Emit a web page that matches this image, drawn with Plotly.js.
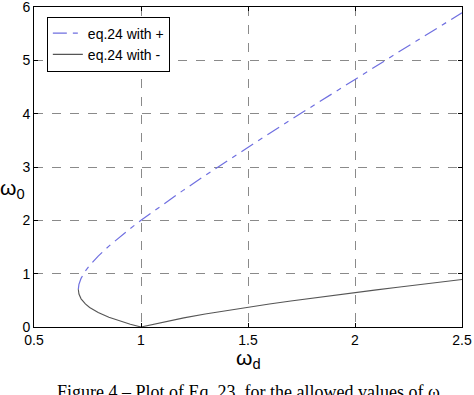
<!DOCTYPE html>
<html>
<head>
<meta charset="utf-8">
<script src="https://cdn.plot.ly/plotly-3.0.1.min.js"></script>
<style>html,body{margin:0;padding:0;background:#fff;}#chart{width:474px;height:395px;}</style>
</head>
<body>
<div id="chart"></div>
<script>
// values
const omegaD = [0.7071, 0.71, 0.72, 0.74, 0.76, 0.80, 0.85, 0.90, 0.95, 1.00, 1.10, 1.20, 1.30, 1.40, 1.50, 1.60, 1.70, 1.80, 1.90, 2.00, 2.10, 2.20, 2.30, 2.40, 2.50];
const omega0Plus = [0.707, 0.801, 0.912, 1.049, 1.154, 1.329, 1.517, 1.687, 1.847, 2.000, 2.292, 2.571, 2.843, 3.109, 3.371, 3.630, 3.886, 4.141, 4.394, 4.646, 4.896, 5.146, 5.395, 5.644, 5.891];
const omega0Minus = [0.707, 0.619, 0.528, 0.432, 0.366, 0.271, 0.183, 0.113, 0.053, 0.000, 0.092, 0.171, 0.243, 0.309, 0.371, 0.430, 0.486, 0.541, 0.594, 0.646, 0.696, 0.746, 0.795, 0.844, 0.891];
const seriesNames = ["eq.24 with +", "eq.24 with -"];
const xTicks = [0.5, 1, 1.5, 2, 2.5];
const yTicks = [0, 1, 2, 3, 4, 5, 6];

const font = "Liberation Sans, Arial, sans-serif";
const traces = [
  {x: omegaD, y: omega0Plus, name: seriesNames[0], mode: "lines", line: {color: "#6f6fe0", width: 1.2, dash: "14px,6px,5px,6px"}},
  {x: omegaD, y: omega0Minus, name: seriesNames[1], mode: "lines", line: {color: "#555555", width: 1.1}}
];
const axisCommon = {
  showline: true, linecolor: "#000", linewidth: 1, mirror: "ticks",
  ticks: "inside", ticklen: 4, tickcolor: "#000",
  showgrid: true, gridcolor: "#8a8a8a", griddash: "dash", gridwidth: 1,
  zeroline: false, tickfont: {family: font, size: 14, color: "#000"},
  ticklabeloverflow: "allow"
};
const layout = {
  width: 474, height: 395,
  margin: {l: 34, r: 12, t: 7, b: 68},
  paper_bgcolor: "#fff", plot_bgcolor: "#fff",
  xaxis: Object.assign({}, axisCommon, {range: [0.5, 2.5], tickvals: xTicks, ticktext: xTicks.map(String)}),
  yaxis: Object.assign({}, axisCommon, {range: [0, 6], tickvals: yTicks, ticktext: yTicks.map(String)}),
  showlegend: true,
  legend: {x: 0.03, y: 0.97, xanchor: "left", yanchor: "top", bgcolor: "#fff", bordercolor: "#000", borderwidth: 1,
           font: {family: font, size: 14, color: "#000"}, tracegroupgap: 0},
  annotations: [
    {text: "ω<sub>d</sub>", xref: "paper", yref: "paper", x: 0.5, y: -0.1, xanchor: "center", yanchor: "middle",
     showarrow: false, font: {family: font, size: 21, color: "#000"}},
    {text: "ω<sub>0</sub>", xref: "paper", yref: "paper", x: -0.085, y: 0.43, xanchor: "left", yanchor: "middle",
     showarrow: false, font: {family: font, size: 21, color: "#000"}},
    {text: "Figure 4 – Plot of Eq. 23, for the allowed values of ω", xref: "paper", yref: "paper", x: 0.5, y: -0.165,
     xanchor: "center", yanchor: "top", showarrow: false, font: {family: "Liberation Serif, Times New Roman, serif", size: 18, color: "#000"}}
  ]
};
Plotly.newPlot("chart", traces, layout, {displayModeBar: false, staticPlot: true});
</script>
</body>
</html>
